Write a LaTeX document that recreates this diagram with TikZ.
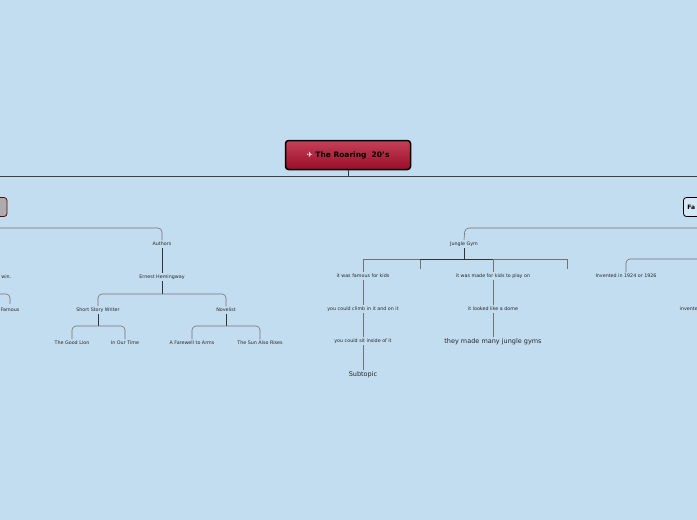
\documentclass[tikz,border=0pt]{standalone}
\usepackage{fontspec}
\setmainfont{DejaVu Sans}
\begin{document}
\begin{tikzpicture}[x=1pt,y=-1pt,
  lbl/.style={inner sep=1.5pt,font=\fontsize{4.8}{5}\selectfont,text=black!85},
  big/.style={inner sep=1.5pt,font=\fontsize{6.5}{7}\selectfont,text=black!85},
  ln/.style={draw=black!55,line width=0.6pt,rounded corners=4pt},
  thk/.style={draw=black!80,line width=0.9pt}]
\definecolor{bg}{HTML}{C3DDF0}
\definecolor{rootred}{HTML}{B5102E}
\fill[bg] (0,0) rectangle (697,520);
\useasboundingbox (0,0) rectangle (697,520);
% root
\node[draw=black,line width=1.5pt,top color=rootred!80!white,bottom color=rootred!85!black,rounded corners=3pt,minimum width=125pt,minimum height=29pt,font=\fontsize{7.5}{8}\selectfont\bfseries,text=black] (root) at (348,155) {\textcolor{white}{✈}\ The Roaring\ \ 20's};
\coordinate (hub) at (348,176);
\coordinate (hl) at (0,176);
\coordinate (hr) at (697,176);
\draw[thk] (root.south) -- (hub);
\draw[draw=black!75,line width=0.9pt] (hl) -- (hr);
% side boxes
\node[draw=red!40!black,line width=0.8pt,fill=gray!65,rounded corners=3pt,minimum width=20pt,minimum height=19pt] (lbox) at (-3,207) {};
\node[draw=black,line width=0.8pt,fill=bg!70!white,rounded corners=3pt,minimum width=30pt,minimum height=19pt,anchor=west,font=\fontsize{6}{7}\selectfont\bfseries,align=left,text width=22pt] (rbox) at (683,207) {Fa};
% left branch
\node[lbl] (auth) at (162,244) {Authors};
\node[lbl] (ern) at (162,277) {Ernest Hemingway};
\node[lbl] (ssw) at (98,310) {Short Story Writer};
\node[lbl] (nov) at (226,310) {Novelist};
\node[lbl] (gl) at (72,343) {The Good Lion};
\node[lbl] (iot) at (125,343) {In Our Time};
\node[lbl] (fa) at (192,343) {A Farewell to Arms};
\node[lbl] (sun) at (260,343) {The Sun Also Rises};
\node[lbl,anchor=east] (win) at (13,277) {win.};
\node[lbl,anchor=east] (fam) at (21,310) {Famous};
\draw[ln] (0,228) -- (162,228) -- (auth.north);
\draw[thk,line width=0.6pt] (auth.south) -- (ern.north);
\draw[thk,line width=0.6pt] (ern.south) -- (162,294);
\draw[ln] (ssw.north) -- (98,294) -- (226,294) -- (nov.north);
\draw[thk,line width=0.6pt] (ssw.south) -- (98,326);
\draw[ln] (gl.north) -- (72,326) -- (125,326) -- (iot.north);
\draw[thk,line width=0.6pt] (nov.south) -- (226,326);
\draw[ln] (fa.north) -- (192,326) -- (260,326) -- (sun.north);
\draw[ln] (0,294) -- (10,294) -- (10,304);
% right branch
\node[lbl] (jg) at (464,244) {Jungle Gym};
\node[lbl] (wf) at (363,276) {it was famous for kids};
\node[lbl] (wm) at (493,276) {it was made for kids to play on};
\node[lbl] (cl) at (363,309) {you could climb in it and on it};
\node[lbl] (si) at (363,341) {you could sit inside of it};
\node[big] (sub) at (363,375) {Subtopic};
\node[lbl] (dome) at (493,309) {it looked like a dome};
\node[big] (many) at (493,342) {they made many jungle gyms};
\node[lbl] (inv) at (626,276) {Invented in 1924 or 1926};
\node[lbl,anchor=west] (inv2) at (678,309) {invented};
\draw[ln] (jg.north) -- (465,228) -- (697,228);
\draw[thk] (jg.south) -- (464,259);
\coordinate (t1) at (420,269);
\coordinate (t2) at (567,269);
\draw[ln,rounded corners=0pt] (wf.north) -- (363,259) -- (567,259) -- (t2);
\draw[ln] (420,259) -- (t1);
\draw[ln] (493,259) -- (wm.north);
\draw[thk,line width=0.8pt] (420,259) -- (493,259);
\draw[ln] (inv.north) -- (626,259) -- (697,259);
\draw[ln] (wf.south) -- (cl.north);
\draw[ln] (cl.south) -- (si.north);
\draw[ln] (si.south) -- (sub.north);
\draw[ln] (wm.south) -- (dome.north);
\draw[ln] (dome.south) -- (many.north);
\end{tikzpicture}
\end{document}
